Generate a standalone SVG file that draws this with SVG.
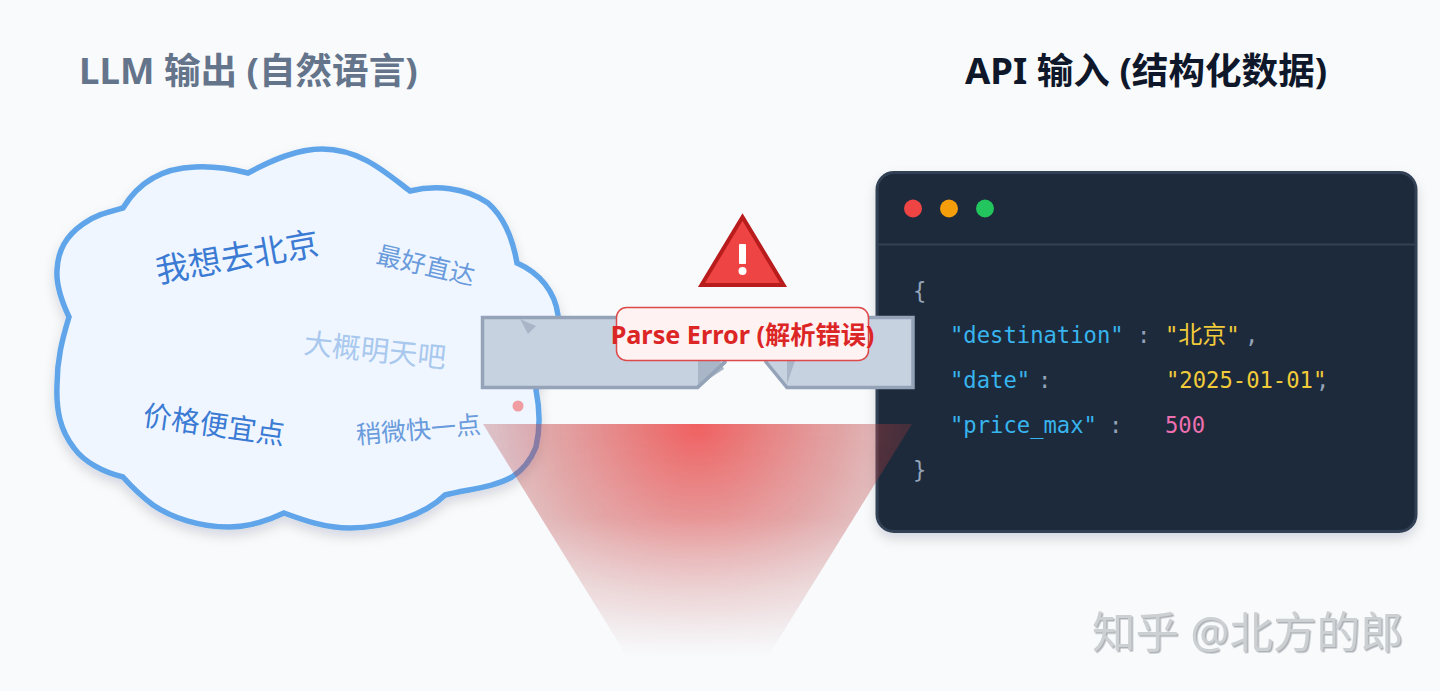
<svg xmlns="http://www.w3.org/2000/svg" width="1440" height="691" viewBox="0 0 1440 691">
<style>
.cj{font-family:"Noto Sans","Noto Sans CJK SC",sans-serif}
.title{font-size:36.600px;font-weight:700}
.mono{font-family:"DejaVu Sans Mono","Noto Sans CJK SC",monospace;font-size:22.200px}
.k{fill:#38b4ee}.s{fill:#f2cb3a}.n{fill:#ec6fae}.p{fill:#94a3b8}
.band{fill:#c7d2e0;stroke:#94a3b8;stroke-width:3.5}
.edge{fill:none;stroke:#94a3b8;stroke-width:3.5}
.fold{fill:#a9b6c8}
</style>
<defs>
<filter id="sh" x="-10%" y="-10%" width="120%" height="125%"><feDropShadow dx="0" dy="6" stdDeviation="6" flood-color="#0f172a" flood-opacity=".14"/></filter>
<filter id="wm" x="-5%" y="-10%" width="110%" height="120%"><feDropShadow dx="1.5" dy="1.5" stdDeviation=".6" flood-color="#a6a9ad" flood-opacity=".9"/></filter>
<radialGradient id="beam" gradientUnits="userSpaceOnUse" cx="697" cy="424" r="225" gradientTransform="translate(697 424) scale(1 1.1) translate(-697 -424)">
<stop offset="0" stop-color="#ef4444" stop-opacity=".85"/>
<stop offset=".45" stop-color="#d84a4a" stop-opacity=".6"/>
<stop offset="1" stop-color="#a83a3a" stop-opacity=".24"/>
</radialGradient>
<linearGradient id="fade" gradientUnits="userSpaceOnUse" x1="0" y1="424" x2="0" y2="658">
<stop offset="0" stop-color="#fff"/><stop offset=".4" stop-color="#fff" stop-opacity=".9"/><stop offset=".8" stop-color="#fff" stop-opacity=".35"/><stop offset="1" stop-color="#fff" stop-opacity="0"/>
</linearGradient>
<mask id="fm" maskUnits="userSpaceOnUse" x="470" y="420" width="460" height="250"><rect x="470" y="420" width="460" height="250" fill="url(#fade)"/></mask>
</defs>
<rect width="1440" height="691" fill="#f8fafc"/>
<text class="cj title" x="79" y="84" fill="#64748b">LLM 输出 (自然语言)</text>
<text class="cj title" x="965" y="84" fill="#0f172a">API 输入 (结构化数据)</text>
<g id="cloud">
<path filter="url(#sh)" d="M123,208 C140,180 165,168 195,167 C215,166 232,169 248,173 C272,160 297,149 322,149 C360,149 385,172 410,191 C435,185 465,187 488,203 C505,218 513,240 517,263 C540,273 555,292 558,315 C560,345 545,368 536,390 C540,410 540,430 536,447 C530,462 520,472 512,477 C492,488 468,489 445,495 C425,515 385,528 350,528 C325,528 303,520 284,513 C265,522 248,527 229,527 C200,527 172,518 153,505 C141,496 131,486 123,477 C103,472 84,462 74,448 C60,430 56,410 57,385 C57,360 62,340 69,317 C61,300 56,285 57,270 C58,250 66,236 83,224 C95,215 108,212 123,208 Z" fill="#eff6ff" stroke="#60a5ea" stroke-width="5.500"/>
<text class="cj" font-size="33" fill="#3b7bd4" transform="translate(158 283) rotate(-10)">我想去北京</text>
<text class="cj" font-size="25" fill="#6a9bdc" transform="translate(375 263) rotate(13)">最好直达</text>
<text class="cj" font-size="28.500" fill="#a8c8ee" transform="translate(303 353) rotate(6)">大概明天吧</text>
<text class="cj" font-size="28.500" fill="#3b7bd4" transform="translate(142 425) rotate(8)">价格便宜点</text>
<text class="cj" font-size="25" fill="#6a9bdc" transform="translate(357 444) rotate(-5)">稍微快一点</text>
</g>
<g id="code-panel">
<rect x="877" y="172.500" width="539" height="359" rx="17" fill="#1e293b" stroke="#334155" stroke-width="3" filter="url(#sh)"/>
<line x1="878" y1="244.500" x2="1415" y2="244.500" stroke="#334155" stroke-width="2"/>
<circle cx="913" cy="208.500" r="9" fill="#ef4444"/>
<circle cx="949" cy="208.500" r="9" fill="#f59e0b"/>
<circle cx="985" cy="208.500" r="9" fill="#22c55e"/>
<text class="mono p" x="913" y="299">{</text>
<text class="mono k" x="950" y="343">"destination"</text><text class="mono p" x="1137" y="343">:</text>
<text class="mono s" x="1165" y="343">"<tspan font-size="24">北京</tspan>"</text><text class="mono p" x="1245" y="343">,</text>
<text class="mono k" x="950" y="388">"date"</text><text class="mono p" x="1038" y="388">:</text>
<text class="mono s" x="1166" y="388">"2025-01-01"</text><text class="mono p" x="1316" y="388">,</text>
<text class="mono k" x="950" y="433">"price_max"</text><text class="mono p" x="1109" y="433">:</text>
<text class="mono n" x="1165" y="433">500</text>
<text class="mono p" x="913" y="478">}</text>
</g>
<g id="connectors">
<path class="band" d="M482.500,317.500 H725 V362 L697.500,387.500 H482.500 Z"/>
<path class="band" d="M766,362 L787,387.500 H913 V317.500 H760 Z"/>
<path class="fold" d="M520,319 L536,326 L528,334 Z"/>
<path class="fold" d="M698,361 H720 L724,369 L698,386 Z"/>
<path class="fold" d="M787,361 H795 L787,384 Z"/>
<path class="edge" d="M725,362 L697.500,387.500"/>
</g>
<g id="warning">
<path d="M742.500,217 L783.500,285 H701.500 Z" fill="#ef4444" stroke="#b91c1c" stroke-width="4"/>
<rect x="739" y="244" width="7" height="20" rx="1" fill="#fff"/>
<circle cx="742.500" cy="271" r="4" fill="#fff"/>
</g>
<g id="beam-group">
<circle cx="518" cy="406" r="5.500" fill="#ef4444" fill-opacity=".5"/>
<path d="M483,424 H912 L697.500,770 Z" fill="url(#beam)" mask="url(#fm)"/>
</g>
<g id="badge">
<rect x="616.500" y="307.500" width="252" height="53" rx="10" fill="#fef2f2" stroke="#dc4a4a" stroke-width="1.500"/>
<text class="cj" x="742.500" y="344" font-size="25.200" font-weight="700" fill="#dc2626" text-anchor="middle">Parse Error (解析错误)</text>
</g>
<g id="watermark">
<text class="cj" x="1092" y="648" font-size="43.500" fill="#ccd0d3" filter="url(#wm)">知乎 @北方的郎</text>
</g>
</svg>
